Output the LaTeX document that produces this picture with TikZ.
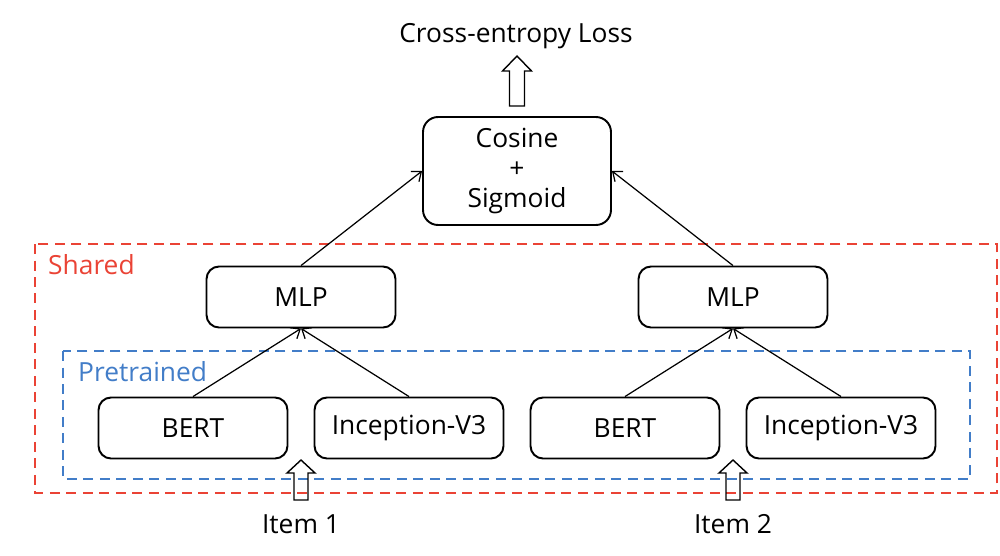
\documentclass[tikz,border=0pt]{standalone}
\usepackage{fontspec}
\setmainfont{Open Sans}
\usetikzlibrary{arrows.meta}

\definecolor{sharedred}{RGB}{234,67,53}
\definecolor{pretrainblue}{RGB}{66,125,200}

\begin{document}
\begin{tikzpicture}[x=0.02cm,y=-0.02cm,font=\fontsize{15}{17}\selectfont,
  >={Straight Barb[length=1.6mm,width=2.6mm]},
  block/.style={draw,line width=1.1pt,rounded corners=0.25cm,
    minimum width=3.78cm,minimum height=1.22cm,inner sep=0pt},
  link/.style={->,line width=0.7pt},
  fatarrow/.style={draw,line width=0.8pt,line join=miter},
  region/.style={dashed,line width=1.3pt,dash pattern=on 2mm off 1.3mm}]
  \useasboundingbox (0,0) rectangle (1000,555);

  % groups
  \draw[region,sharedred] (35,244) rectangle (997,493);
  \node[sharedred,anchor=west] (shared) at (42,265) {Shared};
  \draw[region,pretrainblue] (63,351) rectangle (970,479);
  \node[pretrainblue,anchor=west] (pretrained) at (72,372) {Pretrained};

  % top
  \node[block,minimum width=3.76cm,minimum height=2.16cm,rounded corners=0.3cm,
    align=center] (cos) at (517,171) {Cosine\\+\\Sigmoid};
  \coordinate (lossarrow) at (517,56);
  \draw[fatarrow] (lossarrow) -- ++(14.5,15) -- ++(-7,0) -- ++(0,35)
    -- ++(-15,0) -- ++(0,-35) -- ++(-7,0) -- cycle;
  \node (loss) at (516,36) {Cross-entropy Loss};

  % item 1
  \node[block] (mlp1) at (301,297) {MLP};
  \node[block] (bert1) at (193,428) {BERT};
  \node[block] (incep1) at (409,428) {Inception-V3};
  \coordinate (in1) at (301,460);
  \draw[fatarrow] (in1) -- ++(14,13) -- ++(-7,0) -- ++(0,27)
    -- ++(-14,0) -- ++(0,-27) -- ++(-7,0) -- cycle;
  \node (item1) at (301,524) {Item 1};

  % item 2
  \node[block] (mlp2) at (733,297) {MLP};
  \node[block] (bert2) at (625,428) {BERT};
  \node[block] (incep2) at (841,428) {Inception-V3};
  \coordinate (in2) at (733,460);
  \draw[fatarrow] (in2) -- ++(14,13) -- ++(-7,0) -- ++(0,27)
    -- ++(-14,0) -- ++(0,-27) -- ++(-7,0) -- cycle;
  \node (item2) at (733,524) {Item 2};

  \draw[link] (bert1.north) -- (mlp1.south);
  \draw[link] (incep1.north) -- (mlp1.south);
  \draw[link] (bert2.north) -- (mlp2.south);
  \draw[link] (incep2.north) -- (mlp2.south);
  \draw[link] (mlp1.north) -- (cos.west);
  \draw[link] (mlp2.north) -- (cos.east);
\end{tikzpicture}
\end{document}
